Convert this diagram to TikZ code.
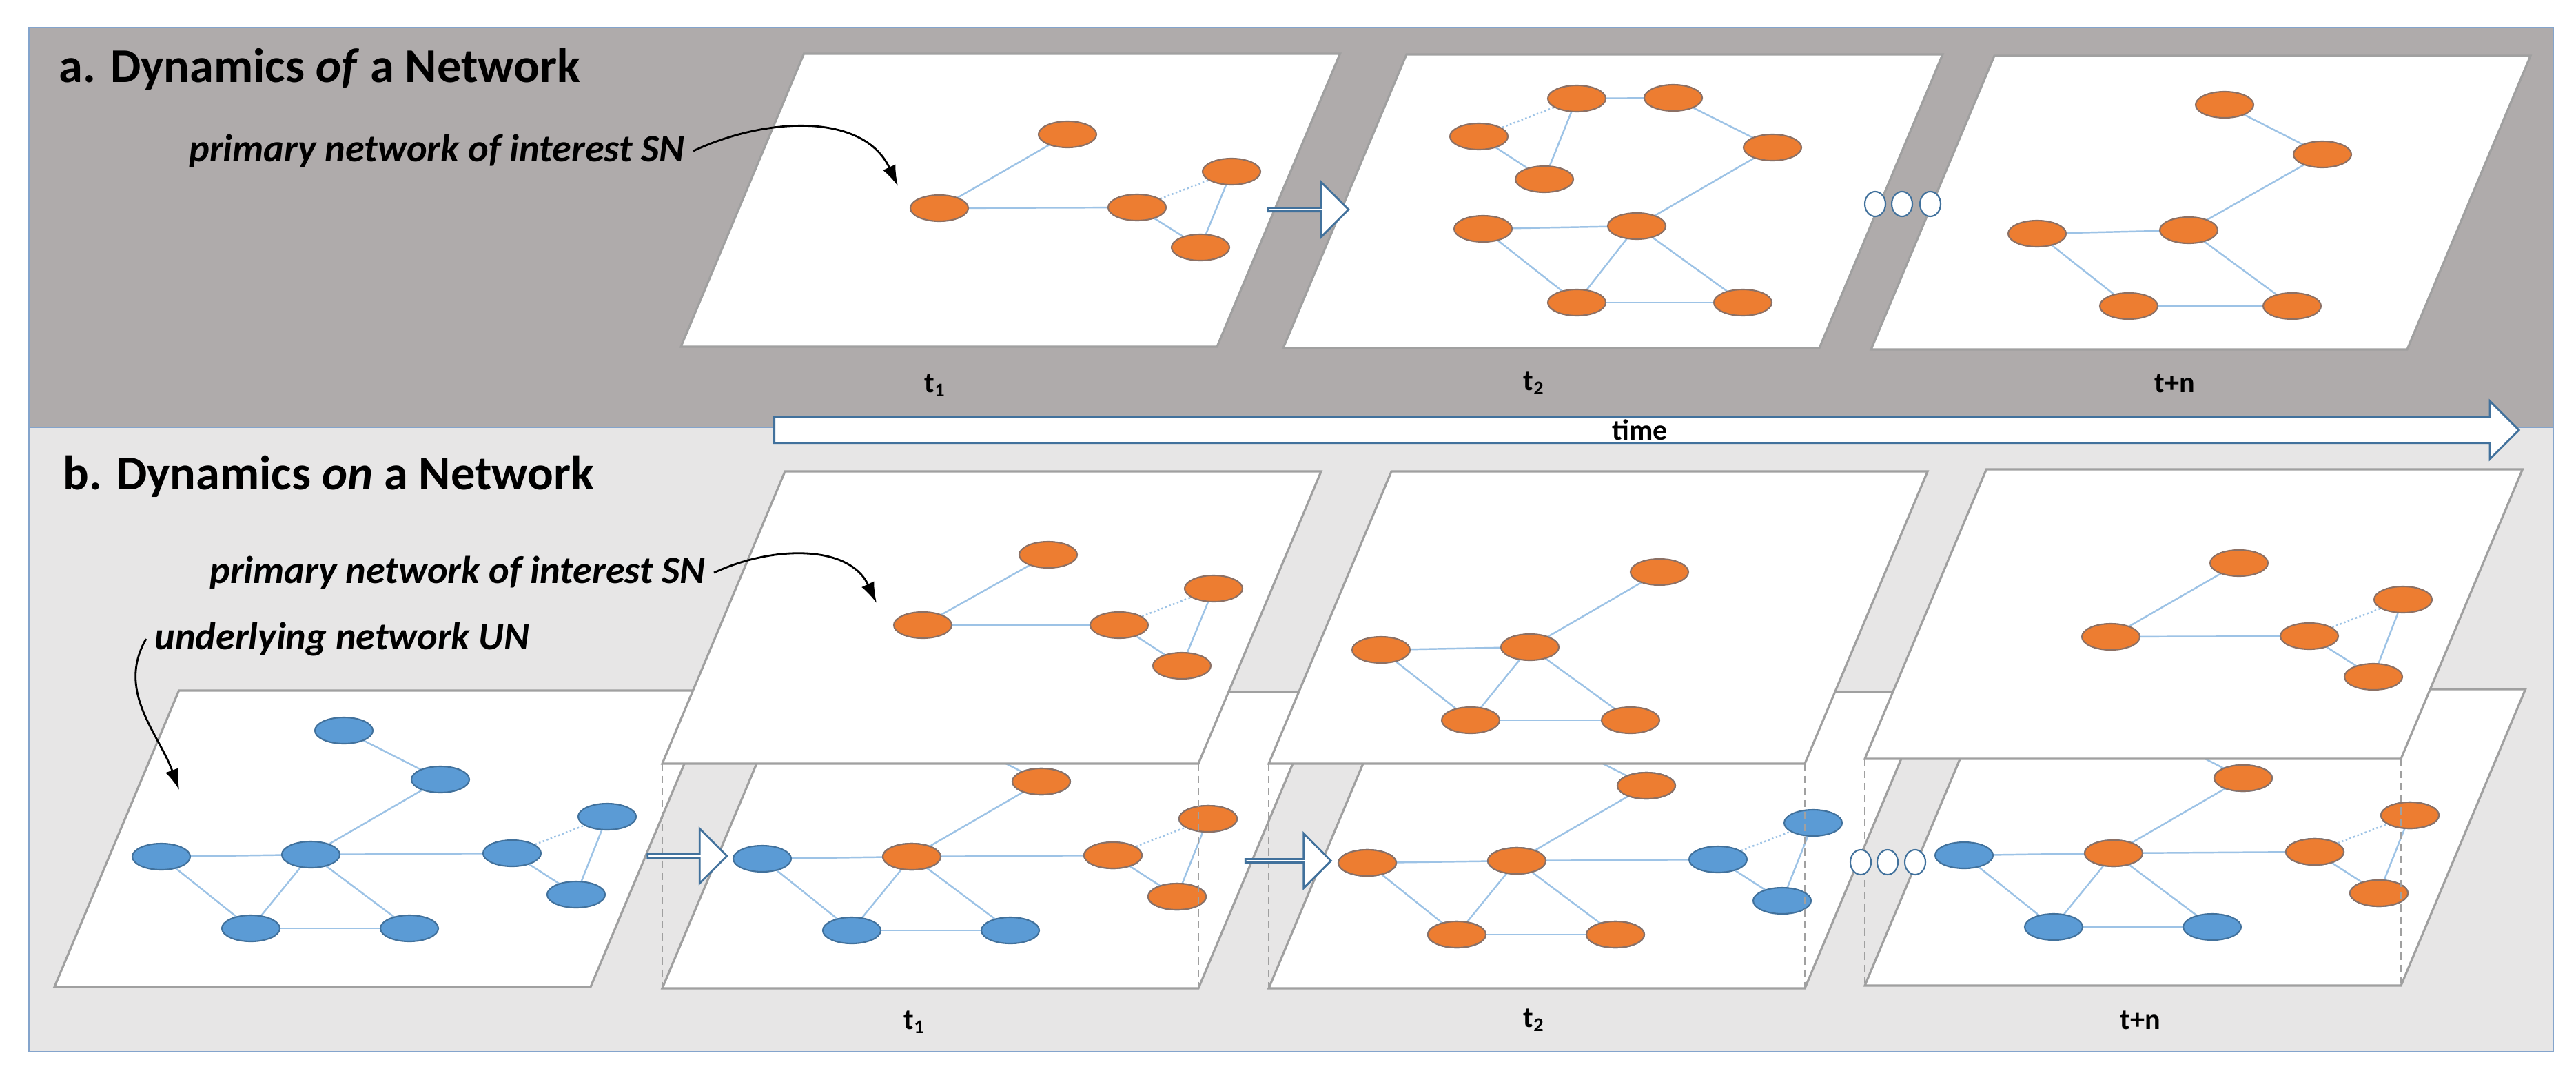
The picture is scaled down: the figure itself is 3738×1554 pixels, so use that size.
\documentclass[tikz,border=0pt]{standalone}
\usepackage{fontspec}
\setmainfont{Carlito}
\usetikzlibrary{shapes.geometric,shapes.arrows,arrows.meta}
\definecolor{panelgray}{RGB}{175,171,171}
\definecolor{panellight}{RGB}{231,230,230}
\definecolor{frameline}{RGB}{132,164,204}
\definecolor{sheetline}{RGB}{160,160,160}
\definecolor{linkblue}{RGB}{157,195,230}
\definecolor{nodeorange}{RGB}{237,125,49}
\definecolor{orangeline}{RGB}{140,112,100}
\definecolor{nodeblue}{RGB}{91,155,213}
\definecolor{blueline}{RGB}{65,113,156}
\tikzstyle{sheet} = [draw=sheetline, fill=white, line width=0.9pt]
\tikzstyle{link} = [draw=linkblue, line width=0.7pt]
\tikzstyle{onode} = [ellipse, fill=nodeorange, draw=orangeline, line width=0.6pt,
    minimum width=0.84cm, minimum height=0.38cm, inner sep=0pt]
\tikzstyle{bnode} = [onode, fill=nodeblue, draw=blueline]
\tikzstyle{dots} = [ellipse, fill=white, draw=blueline, line width=0.6pt,
    minimum width=0.3cm, minimum height=0.36cm, inner sep=0pt]
\tikzstyle{hollow} = [single arrow, fill=white, draw=blueline, line width=0.8pt,
    minimum height=1.15cm, minimum width=0.79cm, single arrow head extend=0.2cm,
    single arrow tip angle=90, inner sep=0pt]
\tikzstyle{title} = [font=\fontsize{20}{24}\selectfont\bfseries, anchor=west]
\tikzstyle{note} = [font=\fontsize{16}{19}\selectfont\bfseries\itshape]
\tikzstyle{tlabel} = [font=\fontsize{12}{14}\selectfont\bfseries]
\tikzstyle{pointer} = [-{Latex[length=0.3cm,width=0.2cm]}, line width=0.8pt]
% parallelogram sheet: bottom-left x, y, height
\newcommand\sheet[3]{\draw[sheet] (#1,#2) -- ++(778,0) -- ++({0.42*#3},{-#3}) -- ++(-778,0) -- cycle;}
% underlying network: prefix, x shift, y shift, orange nodes
\newcommand\undernet[4]{%
    \foreach \n/\x/\y in {A/499/1060,B/639/1131,C/881/1185,D/234/1243,E/451/1240,
        F/743/1238,G/836/1298,H/364/1347,I/594/1347}
        \coordinate (#1\n) at (\x+#2,\y+#3);
    \foreach \a/\b in {A/B,B/E,D/E,E/F,C/G,F/G,D/H,E/H,E/I,H/I}
        \draw[link] (#1\a) -- (#1\b);
    \draw[link,densely dotted] (#1F) -- (#1C);
    \foreach \n in {A,B,C,D,E,F,G,H,I}
        \node[bnode] (#1\n n) at (#1\n) {};
    \if\relax\detokenize{#4}\relax\else
        \foreach \n in {#4} \node[onode] (#1\n n) at (#1\n) {};
    \fi}

\begin{document}
\begin{tikzpicture}[x=0.01cm,y=-0.01cm]
\useasboundingbox (0,0) rectangle (3738,1554);
\draw[fill=panelgray, draw=frameline, line width=0.8pt] (42,40) rectangle (3705,620);
\draw[fill=panellight, draw=frameline, line width=0.8pt] (42,620) rectangle (3705,1526);

% a. dynamics of a network
\sheet{988}{503}{425}
\sheet{1862}{505}{426}
\sheet{2715}{507}{426}
\foreach \n/\x/\y in {A/1549/195,P/1363/302,Q/1650/301,C/1787/249,G/1742/359}
    \coordinate (a\n) at (\x,\y);
\foreach \a/\b in {A/P,P/Q,C/G,Q/G} \draw[link] (a\a) -- (a\b);
\draw[link,densely dotted] (aQ) -- (aC);
\foreach \n in {A,P,Q,C,G} \node[onode] (a\n n) at (a\n) {};

\foreach \n/\x/\y in {1/2288/143,2/2428/142,3/2146/198,4/2241/260,5/2572/214,
    6/2152/332,7/2375/328,8/2288/439,9/2529/439}
    \coordinate (b\n) at (\x,\y);
\foreach \a/\b in {1/2,1/4,3/4,2/5,5/7,6/7,6/8,7/8,7/9,8/9} \draw[link] (b\a) -- (b\b);
\draw[link,densely dotted] (b1) -- (b3);
\foreach \n in {1,...,9} \node[onode] (b\n n) at (b\n) {};

\foreach \n/\x/\y in {1/3228/152,2/3370/224,3/2956/339,4/3176/334,5/3089/444,6/3326/444}
    \coordinate (c\n) at (\x,\y);
\foreach \a/\b in {1/2,2/4,3/4,3/5,4/6,5/6} \draw[link] (c\a) -- (c\b);
\foreach \n in {1,...,6} \node[onode] (c\n n) at (c\n) {};

\node[hollow, minimum height=1.17cm] (astep) at (1897,304) {};
\foreach \i/\x in {1/2721,2/2760,3/2801} \node[dots] (adot\i) at (\x,296) {};

\node[title] (atitle) at (73,100) {a. Dynamics \textit{of} a Network};
\node[note, anchor=east] (asn) at (1006,219) {primary network of interest SN};
\coordinate (asnend) at (1303,270);
\draw[pointer] (asn.east) to[out=25,in=115] (asnend);
\node[tlabel] (at1) at (1357,559) {t\textsubscript{1}};
\node[tlabel] (at2) at (2226,556) {t\textsubscript{2}};
\node[tlabel] (atn) at (3156,556) {t+n};

% time axis
\node[single arrow, fill=white, draw=blueline, line width=0.8pt, minimum height=25.3cm,
    minimum width=0.84cm, single arrow head extend=0.205cm, single arrow tip angle=90,
    inner sep=0pt, font=\fontsize{12}{14}\selectfont\bfseries] (time) at (2380,624) {time};

% b. dynamics on a network
\node[title] (btitle) at (79,691) {b. Dynamics \textit{on} a Network};
\sheet{79}{1432}{430}
\undernet{u}{0}{0}{}

\sheet{961}{1434}{430}
\undernet{p}{872}{3}{A,B,C,E,F,G}
\sheet{1841}{1434}{430}
\undernet{q}{1750}{9}{A,B,D,E,H,I}
\sheet{2706}{1430}{430}
\undernet{r}{2616}{-2}{A,B,C,E,F,G}

\foreach \x/\y/\h in {961/1108/424,1841/1108/424,2706/1101/420} {
    \draw[sheetline, densely dashed, line width=0.4pt] (\x,\y) -- (\x,\y+326);
    \draw[sheetline, densely dashed, line width=0.4pt] (\x+778,\y) -- (\x+778,\y+326);
    \sheet{\x}{\y}{\h}
}

\foreach \n/\x/\y in {A/1521/805,P/1339/907,Q/1624/907,C/1761/854,G/1715/966}
    \coordinate (s\n) at (\x,\y);
\foreach \a/\b in {A/P,P/Q,C/G,Q/G} \draw[link] (s\a) -- (s\b);
\draw[link,densely dotted] (sQ) -- (sC);
\foreach \n in {A,P,Q,C,G} \node[onode] (s\n n) at (s\n) {};

\foreach \n/\x/\y in {T/2408/830,L/2004/943,M/2220/939,H/2134/1045,I/2366/1045}
    \coordinate (v\n) at (\x,\y);
\foreach \a/\b in {T/M,L/M,L/H,M/H,M/I,H/I} \draw[link] (v\a) -- (v\b);
\foreach \n in {T,L,M,H,I} \node[onode] (v\n n) at (v\n) {};

\foreach \n/\x/\y in {A/3249/817,P/3063/924,Q/3351/923,C/3487/870,G/3444/982}
    \coordinate (w\n) at (\x,\y);
\foreach \a/\b in {A/P,P/Q,C/G,Q/G} \draw[link] (w\a) -- (w\b);
\draw[link,densely dotted] (wQ) -- (wC);
\foreach \n in {A,P,Q,C,G} \node[onode] (w\n n) at (w\n) {};

\node[hollow] (bstep1) at (996,1242) {};
\node[hollow, minimum height=1.24cm] (bstep2) at (1868,1249) {};
\foreach \i/\x in {1/2700,2/2739,3/2779} \node[dots] (bdot\i) at (\x,1251) {};

\node[note, anchor=east] (bsn) at (1036,831) {primary network of interest SN};
\coordinate (bsnend) at (1272,875);
\draw[pointer] (bsn.east) to[out=25,in=115] (bsnend);
\node[note, anchor=west] (bun) at (212,927) {underlying network UN};
\coordinate (bunend) at (260,1146);
\draw[pointer] (bun.west) to[out=240,in=110] (bunend);

\node[tlabel] (bt1) at (1327,1483) {t\textsubscript{1}};
\node[tlabel] (bt2) at (2226,1480) {t\textsubscript{2}};
\node[tlabel] (btn) at (3106,1480) {t+n};
\end{tikzpicture}
\end{document}
